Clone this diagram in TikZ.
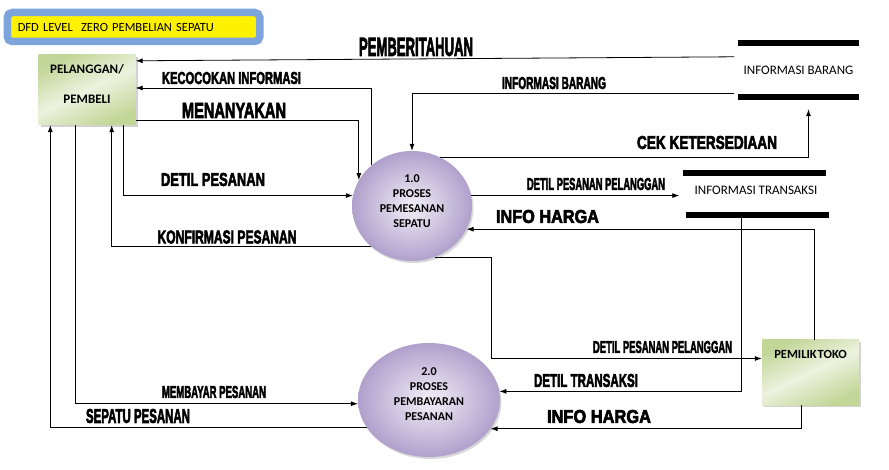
\documentclass[tikz,border=0pt]{standalone}
\usepackage{fontspec}
\usepackage{graphicx}
\setmainfont{Carlito}
\newfontfamily\heavyfont{Liberation Sans}[FakeBold=3.5]
\usetikzlibrary{arrows.meta, shapes.geometric, shadows}

\definecolor{titleblue}{RGB}{125,165,220}
\definecolor{greentop}{RGB}{194,214,152}
\definecolor{greenmid}{RGB}{236,242,222}
\definecolor{purpleout}{RGB}{176,160,204}
\definecolor{purplein}{RGB}{242,239,247}

\newcommand{\flowlabel}[3]{\resizebox{#1pt}{#2pt}{\heavyfont\bfseries #3}}

\begin{document}
\begin{tikzpicture}[x=1pt, y=-1pt, >={Latex[length=7pt,width=5pt]},
  flow/.style={->, line width=0.8pt},
  lbl/.style={inner sep=0pt},
  bar/.style={line width=6pt},
  entity/.style={rectangle, minimum width=97pt, inner sep=0pt, align=center,
    font=\fontsize{13}{30}\selectfont\bfseries,
    top color=greentop, bottom color=greentop, middle color=greenmid, shading angle=25,
    drop shadow={shadow xshift=2pt, shadow yshift=-2pt, fill=black!35}},
  process/.style={ellipse, inner sep=0pt, align=center,
    font=\fontsize{12}{15}\selectfont\bfseries,
    shading=radial, inner color=purplein, outer color=purpleout,
    drop shadow={shadow xshift=1.5pt, shadow yshift=-2pt, fill=black!30}},
  store/.style={minimum width=120pt, minimum height=54pt, inner sep=0pt,
    font=\fontsize{13}{15}\selectfont},
  titlebox/.style={draw=titleblue, line width=7.5pt, rounded corners=5pt, fill=yellow,
    minimum height=29pt, text width=231.5pt, inner xsep=10.5pt, align=left,
    font=\fontsize{12.5}{14}\selectfont}]
  \useasboundingbox (0,0) rectangle (889,470);

  % judul
  \node[titlebox] (judul) at (133.5,27) {DFD LEVEL\ \ ZERO PEMBELIAN SEPATU};

  % entitas dan proses
  \node[entity, minimum height=70pt] (pel) at (87,90) {PELANGGAN/\\PEMBELI\rule[-13pt]{0pt}{13pt}};
  \node[entity, minimum height=65pt, text depth=37pt, font=\fontsize{12.5}{15}\selectfont\bfseries] (pem) at (810.5,372.5) {PEMILIK\hspace{1pt}TOKO};
  \node[process, minimum width=120pt, minimum height=110pt] (p1) at (412,206)
    {1.0\\PROSES\\PEMESANAN\\SEPATU\rule[-10pt]{0pt}{10pt}};
  \node[process, minimum width=142pt, minimum height=114pt] (p2) at (429,400)
    {2.0\\PROSES\\PEMBAYARAN\\PESANAN\rule[-12pt]{0pt}{12pt}};

  % data store
  \node[store] (barang) at (798.5,70) {INFORMASI BARANG};
  \draw[bar] (barang.north west) -- (barang.north east);
  \draw[bar] (barang.south west) -- (barang.south east);
  \node[store, minimum width=143pt, minimum height=41pt] (transaksi) at (756,194)
    {\raisebox{7pt}{INFORMASI TRANSAKSI}};
  \draw[bar] ([xshift=-1.5pt]transaksi.north west) -- ([xshift=-1.5pt]transaksi.north east);
  \draw[bar] ([xshift=1.5pt]transaksi.south west) -- ([xshift=1.5pt]transaksi.south east);

  % aliran data
  \draw[flow] ([yshift=-14pt,xshift=-4pt]barang.north west) -- ([yshift=-6pt]pel.north east);
  \draw[flow] (p1.135) |- ([yshift=2pt]pel.east);
  \draw[flow] ([yshift=5pt]pel.south east) -| (p1.154);
  \draw[flow] ([xshift=-12pt]pel.south east) |- (p1.170);
  \draw[flow] (p1.225) -| ([xshift=-24pt]pel.south east);
  \draw[flow] (p2.204) -| ([xshift=12pt]pel.south west);
  \draw[flow] ([xshift=37pt]pel.south west) |- (p2.183);
  \draw[flow, shorten >=12pt] (p1.60) -| ([xshift=10pt]barang.south);
  \draw[flow] ([yshift=4pt,xshift=-4pt]barang.south west) -| (p1.north);
  \draw[flow, shorten >=5pt] (p1.10) -- (p1.10 -| transaksi.west);
  \draw[flow] ([xshift=4pt]pem.north) |- (p1.-23);
  \draw[flow] (p1.-66) -- ++(57,0) |- ([yshift=14pt]pem.west);
  \draw[flow] ([xshift=-15pt]transaksi.south) |- (p2.7);
  \draw[flow] ([xshift=-9pt]pem.south) |- (p2.-25);

  % label aliran
  \node[lbl] (lpemberitahuan) at (416,47) {\flowlabel{114}{18}{PEMBERITAHUAN}};
  \node[lbl] (lkecocokan) at (231.5,78) {\flowlabel{139}{12}{KECOCOKAN INFORMASI}};
  \node[lbl] (lmenanyakan) at (234,110.5) {\flowlabel{104}{15}{MENANYAKAN}};
  \node[lbl] (ldetil) at (213,179.5) {\flowlabel{104}{13}{DETIL PESANAN}};
  \node[lbl] (lkonfirmasi) at (227,237) {\flowlabel{139}{13}{KONFIRMASI PESANAN}};
  \node[lbl] (lmembayar) at (214,392) {\flowlabel{104}{12}{MEMBAYAR PESANAN}};
  \node[lbl] (lsepatu) at (138,416) {\flowlabel{104}{14}{SEPATU PESANAN}};
  \node[lbl] (lcek) at (707,142.5) {\flowlabel{140}{13}{CEK KETERSEDIAAN}};
  \node[lbl] (linfobarang) at (554,83) {\flowlabel{104}{12}{INFORMASI BARANG}};
  \node[lbl] (ldetilpel) at (596,184) {\flowlabel{138}{12}{DETIL PESANAN PELANGGAN}};
  \node[lbl] (lharga) at (547.5,216.5) {\flowlabel{103}{13}{INFO HARGA}};
  \node[lbl] (ldetilpem) at (662.5,347) {\flowlabel{139}{12}{DETIL PESANAN PELANGGAN}};
  \node[lbl] (ltransaksi) at (586,380.5) {\flowlabel{104}{13}{DETIL TRANSAKSI}};
  \node[lbl] (lhargapem) at (599,416.5) {\flowlabel{104}{13}{INFO HARGA}};
\end{tikzpicture}
\end{document}
